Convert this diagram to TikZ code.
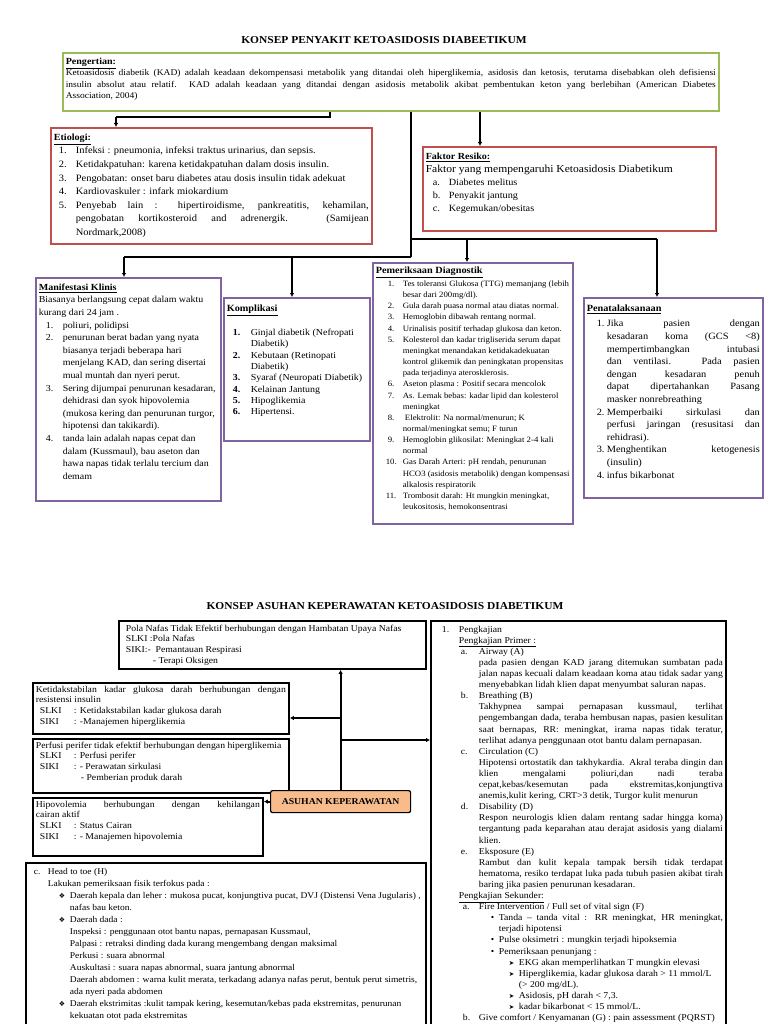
\documentclass[tikz,border=0pt]{standalone}
\usepackage{fontspec}
\setmainfont[FakeStretch=1.08]{Liberation Serif}
\newfontfamily\dejavu{DejaVu Sans}
\usetikzlibrary{arrows.meta,calc}
\definecolor{grn}{RGB}{155,187,89}
\definecolor{rd}{RGB}{192,80,77}
\definecolor{pur}{RGB}{128,100,162}
\definecolor{asuh}{RGB}{248,188,140}
\newcommand\fs[2]{\fontsize{#1}{#2}\selectfont}
\newcommand\li[4]{\par{\leftskip=#2pt\relax\noindent\llap{\hbox to \dimexpr#2pt-#1pt\relax{#3\hfil}}#4\par}}
\newcommand\ind[2]{\par{\leftskip=#1pt\relax\noindent#2\par}}
\newcommand\hd[1]{\textbf{\underline{#1}}}
\newcommand\dia{{\dejavu\fontsize{7}{7}\selectfont ❖}}
\newcommand\arrtip{{\dejavu\fontsize{6.5}{6}\selectfont ➤}}
\newcommand\bx[7]{\node[#6,anchor=north west,inner xsep=3pt,inner ysep=3pt] (#1) at (#2,#3) {\parbox[c][\dimexpr#5pt-6pt\relax][t]{\dimexpr#4pt-6pt\relax}{\parindent=0pt\tolerance=1000\emergencystretch=0pt\hbadness=10000\hfuzz=30pt\hyphenpenalty=10000\exhyphenpenalty=10000 #7}};}
\begin{document}
\begin{tikzpicture}[x=1pt,y=-1pt,
  gbox/.style={draw=grn,line width=1.6pt},
  rbox/.style={draw=rd,line width=1.6pt},
  pbox/.style={draw=pur,line width=1.6pt},
  kbox/.style={draw=black,line width=1.8pt},
  ln/.style={draw=black,line width=1.8pt},
  arr/.style={ln,-{Latex[length=4pt,width=4.5pt]}},
  ttl/.style={font=\bfseries\fs{10.6}{12}},
  asuhbox/.style={draw=black,line width=1.2pt,fill=asuh,rounded corners=2pt,font=\bfseries\fs{9}{10},inner sep=0pt}]
\clip (0,0) rectangle (768,1024);
\fill[white] (0,0) rectangle (768,1024);

% ---------------- top part ----------------
\node[ttl] (t1) at (384,40) {KONSEP PENYAKIT KETOASIDOSIS DIABEETIKUM};

\bx{peng}{62}{52}{656}{58}{gbox}{\vspace*{2pt}\fs{9.3}{11.5}\hd{Pengertian:}\par
\fs{8.8}{11.5}Ketoasidosis diabetik (KAD) adalah keadaan dekompensasi metabolik yang ditandai oleh hiperglikemia, asidosis dan ketosis, terutama disebabkan oleh defisiensi\linebreak insulin absolut atau relatif. KAD adalah keadaan yang ditandai dengan asidosis metabolik akibat pembentukan keton yang berlebihan (American Diabetes\linebreak Association, 2004)}

\bx{etio}{50}{127}{321}{116}{rbox}{\vspace*{3pt}\fs{9.4}{13.6}\hd{Etiologi:}\par
\fs{9.7}{13.6}
\li{5}{22}{1.}{Infeksi : pneumonia, infeksi traktus urinarius, dan sepsis.}
\li{5}{22}{2.}{Ketidakpatuhan: karena ketidakpatuhan dalam dosis insulin.}
\li{5}{22}{3.}{Pengobatan: onset baru diabetes atau dosis insulin tidak adekuat}
\li{5}{22}{4.}{Kardiovaskuler : infark miokardium}
\li{5}{22}{5.}{Penyebab lain : hipertiroidisme, pankreatitis, kehamilan,\linebreak pengobatan kortikosteroid and adrenergik. (Samijean\linebreak Nordmark,2008)}}

\bx{fak}{422}{146}{293}{84}{rbox}{\vspace*{3pt}\fs{9.3}{12.5}\hd{Faktor Resiko:}\par
{\fs{10.7}{13}Faktor yang mempengaruhi Ketoasidosis Diabetikum\par}
\fs{9.5}{13}
\li{7}{23}{a.}{Diabetes melitus}
\li{7}{23}{b.}{Penyakit jantung}
\li{7}{23}{c.}{Kegemukan/obesitas}}

\bx{man}{35}{277}{185}{223}{pbox}{\vspace*{3pt}\fs{9.3}{12.6}\hd{Manifestasi Klinis}\par
\fs{9.2}{12.6}Biasanya berlangsung cepat dalam waktu\\ kurang dari 24 jam .
\li{7}{24}{1.}{poliuri, polidipsi}
\li{7}{24}{2.}{penurunan berat badan yang nyata\\ biasanya terjadi beberapa hari\\ menjelang KAD, dan sering disertai\\ mual muntah dan nyeri perut.}
\li{7}{24}{3.}{Sering dijumpai penurunan kesadaran,\\ dehidrasi dan syok hipovolemia\\ (mukosa kering dan penurunan turgor,\\ hipotensi dan takikardi).}
\li{7}{24}{4.}{tanda lain adalah napas cepat dan\\ dalam (Kussmaul), bau aseton dan\\ hawa napas tidak terlalu tercium dan\\ demam}}

\bx{komp}{223}{297}{146}{143}{pbox}{\vspace*{4pt}\fs{9.5}{11.3}\hd{Komplikasi}\par\vspace{13pt}
\fs{9.2}{11.3}
\li{6}{24}{\textbf{1.}}{Ginjal diabetik (Nefropati\\ Diabetik)}
\li{6}{24}{\textbf{2.}}{Kebutaan (Retinopati\\ Diabetik)}
\li{6}{24}{\textbf{3.}}{Syaraf (Neuropati Diabetik)}
\li{6}{24}{\textbf{4.}}{Kelainan Jantung}
\li{6}{24}{\textbf{5.}}{Hipoglikemia}
\li{6}{24}{\textbf{6.}}{Hipertensi.}}

\bx{pem}{372}{262}{200}{261}{pbox}{\vspace*{1pt}\fs{9.5}{11.2}\hd{Pemeriksaan Diagnostik}\par\vspace{2pt}
\fs{8.1}{11.15}
\li{12}{27}{1.}{Tes toleransi Glukosa (TTG) memanjang (lebih\\ besar dari 200mg/dl).}
\li{12}{27}{2.}{Gula darah puasa normal atau diatas normal.}
\li{12}{27}{3.}{Hemoglobin dibawah rentang normal.}
\li{12}{27}{4.}{Urinalisis positif terhadap glukosa dan keton.}
\li{12}{27}{5.}{Kolesterol dan kadar trigliserida serum dapat\\ meningkat menandakan ketidakadekuatan\\ kontrol glikemik dan peningkatan propensitas\\ pada terjadinya aterosklerosis.}
\li{12}{27}{6.}{Aseton plasma : Positif secara mencolok}
\li{12}{27}{7.}{As. Lemak bebas: kadar lipid dan kolesterol\\ meningkat}
\li{12}{27}{8.}{\ Elektrolit: Na normal/menurun; K\\ normal/meningkat semu; F turun}
\li{12}{27}{9.}{Hemoglobin glikosilat: Meningkat 2-4 kali\\ normal}
\li{10}{27}{10.}{Gas Darah Arteri: pH rendah, penurunan\\ HCO3 (asidosis metabolik) dengan kompensasi\\ alkalosis respiratorik}
\li{10}{27}{11.}{Trombosit darah: Ht mungkin meningkat,\\ leukositosis, hemokonsentrasi}}

\bx{pena}{583}{297}{179}{200}{pbox}{\vspace*{4pt}\fs{9.5}{12.6}\hd{Penatalaksanaan}\par\vspace{3pt}
\fs{9.6}{12.6}
\li{10}{20}{1.}{Jika pasien dengan\linebreak kesadaran koma (GCS <8)\linebreak mempertimbangkan intubasi\linebreak dan ventilasi. Pada pasien\linebreak dengan kesadaran penuh\linebreak dapat dipertahankan Pasang\linebreak masker nonrebreathing}
\li{10}{20}{2.}{Memperbaiki sirkulasi dan\linebreak perfusi jaringan (resusitasi dan\linebreak rehidrasi).}
\li{10}{20}{3.}{Menghentikan ketogenesis\linebreak (insulin)}
\li{10}{20}{4.}{infus bikarbonat}}

% top connectors
\coordinate (c1) at (330,117);
\coordinate (c2) at (116,117);
\draw[ln] (c1 |- peng.south) -- (c1) -- (c2);
\draw[arr] (c2) -- (c2 |- etio.north);
\coordinate (c3) at (480,117);
\draw[arr] (c3 |- peng.south) -- (c3 |- fak.north);
\coordinate (b1) at (411,239);
\coordinate (b2) at (411,257);
\draw[ln] (b1 |- peng.south) -- (b2);
\coordinate (bm) at (124,257);
\coordinate (bk) at (292,257);
\draw[ln] (b2) -- (bm);
\draw[arr] (bm) -- (bm |- man.north);
\draw[arr] (bk) -- (bk |- komp.north);
\coordinate (bp) at (467,239);
\coordinate (bt) at (657,239);
\draw[ln] (b1) -- (bt);
\draw[arr] (bp) -- (bp |- pem.north);
\draw[arr] (bt) -- (bt |- pena.north);

% ---------------- bottom part ----------------
\node[ttl] (t2) at (385,606) {KONSEP ASUHAN KEPERAWATAN KETOASIDOSIS DIABETIKUM};

\bx{pola}{118}{620}{307}{48}{kbox}{\vspace*{1pt}\fs{9}{10.7}\hspace*{4pt}Pola Nafas Tidak Efektif berhubungan dengan Hambatan Upaya Nafas\\
\hspace*{4pt}SLKI :Pola Nafas\\
\hspace*{4pt}\makebox[19pt][l]{SIKI}:- \ Pemantauan Respirasi\\
\hspace*{31pt}- Terapi Oksigen}

\bx{ket}{32}{682}{256}{51}{kbox}{\fs{9}{10.7}Ketidakstabilan kadar glukosa darah berhubungan dengan\linebreak resistensi insulin\\
\hspace*{4pt}\makebox[34pt][l]{SLKI}: Ketidakstabilan kadar glukosa darah\\
\hspace*{4pt}\makebox[34pt][l]{SIKI}: -Manajemen hiperglikemia}

\bx{perf}{32}{738}{256}{54}{kbox}{\fs{9}{10.7}Perfusi perifer tidak efektif berhubungan dengan hiperglikemia\\
\hspace*{4pt}\makebox[34pt][l]{SLKI}: Perfusi perifer\\
\hspace*{4pt}\makebox[34pt][l]{SIKI}: - Perawatan sirkulasi\\
\hspace*{45pt}- Pemberian produk darah}

\bx{hip}{32}{797}{230}{58}{kbox}{\fs{9}{10.7}Hipovolemia berhubungan dengan kehilangan\linebreak cairan aktif\\
\hspace*{4pt}\makebox[34pt][l]{SLKI}: Status Cairan\\
\hspace*{4pt}\makebox[34pt][l]{SIKI}: - Manajemen hipovolemia}

\node[asuhbox,anchor=north west,minimum width=140pt,minimum height=22pt] (asuh) at (270,790) {ASUHAN KEPERAWATAN};

\bx{rb}{430}{620}{295}{420}{kbox}{\vspace*{2pt}\fs{9}{11.1}
\li{8}{25}{1.}{Pengkajian}
\ind{25}{\underline{Pengkajian Primer :}}
\li{27}{45}{a.}{Airway (A)}
\ind{45}{pada pasien dengan KAD jarang ditemukan sumbatan pada\linebreak jalan napas kecuali dalam keadaan koma atau tidak sadar yang\linebreak menyebabkan lidah klien dapat menyumbat saluran napas.}
\li{27}{45}{b.}{Breathing (B)}
\ind{45}{Takhypnea sampai pernapasan kussmaul, terlihat\linebreak pengembangan dada, teraba hembusan napas, pasien kesulitan\linebreak saat bernapas, RR: meningkat, irama napas tidak teratur,\linebreak terlihat adanya penggunaan otot bantu dalam pernapasan.}
\li{27}{45}{c.}{Circulation (C)}
\ind{45}{Hipotensi ortostatik dan takhykardia. Akral teraba dingin dan\linebreak klien mengalami poliuri,dan nadi teraba\linebreak cepat,kebas/kesemutan pada ekstremitas,konjungtiva\linebreak anemis,kulit kering, CRT>3 detik, Turgor kulit menurun}
\li{27}{45}{d.}{Disability (D)}
\ind{45}{Respon neurologis klien dalam rentang sadar hingga koma)\linebreak tergantung pada keparahan atau derajat asidosis yang dialami\linebreak klien.}
\li{27}{45}{e.}{Eksposure (E)}
\ind{45}{Rambut dan kulit kepala tampak bersih tidak terdapat\linebreak hematoma, resiko terdapat luka pada tubuh pasien akibat tirah\linebreak baring jika pasien penurunan kesadaran.}
\ind{25}{\underline{Pengkajian Sekunder:}}
\li{29}{45}{a.}{Fire Intervention / Full set of vital sign (F)}
\li{57}{65}{\textbullet}{Tanda -- tanda vital : RR meningkat, HR meningkat,\linebreak terjadi hipotensi}
\li{57}{65}{\textbullet}{Pulse oksimetri : mungkin terjadi hipoksemia}
\li{57}{65}{\textbullet}{Pemeriksaan penunjang :}
\li{75}{85}{\arrtip}{EKG akan memperlihatkan T mungkin elevasi}
\li{75}{85}{\arrtip}{Hiperglikemia, kadar glukosa darah > 11 mmol/L\\ (> 200 mg/dL).}
\li{75}{85}{\arrtip}{Asidosis, pH darah < 7,3.}
\li{75}{85}{\arrtip}{kadar bikarbonat < 15 mmol/L.}
\li{29}{45}{b.}{Give comfort / Kenyamanan (G) : pain assessment (PQRST)}}

\bx{htt}{25}{862}{400}{180}{kbox}{\vspace*{2pt}\fs{8.8}{12}
\li{5}{19}{c.}{Head to toe (H)}
\ind{19}{Lakukan pemeriksaan fisik terfokus pada :}
\li{30}{41}{\dia}{Daerah kepala dan leher : mukosa pucat, konjungtiva pucat, DVJ (Distensi Vena Jugularis) ,\\ nafas bau keton.}
\li{30}{41}{\dia}{Daerah dada :}
\ind{41}{Inspeksi : penggunaan otot bantu napas, pernapasan Kussmaul,\\ Palpasi : retraksi dinding dada kurang mengembang dengan maksimal\\ Perkusi : suara abnormal\\ Auskultasi : suara napas abnormal, suara jantung abnormal\\ Daerah abdomen : warna kulit merata, terkadang adanya nafas perut, bentuk perut simetris,\\ ada nyeri pada abdomen}
\li{30}{41}{\dia}{Daerah ekstrimitas :kulit tampak kering, kesemutan/kebas pada ekstremitas, penurunan\\ kekuatan otot pada ekstremitas}}

% bottom connectors
\coordinate (v1) at (340,718);
\coordinate (v2) at (340,740);
\draw[arr] (asuh.north) -- (asuh.north |- pola.south);
\draw[arr] (v1) -- (v1 -| ket.east);
\draw[arr] (v2) -- (v2 -| rb.west);
\draw[arr] (asuh.west) -- (asuh.west -| hip.east);
\end{tikzpicture}
\end{document}
